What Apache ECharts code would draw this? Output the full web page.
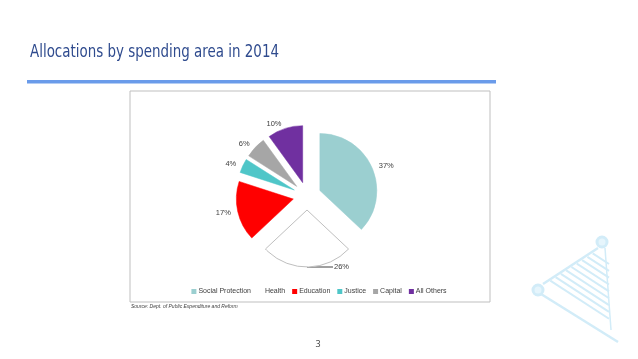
<!DOCTYPE html>
<html><head><meta charset="utf-8">
<script src="https://cdn.jsdelivr.net/npm/echarts@6/dist/echarts.min.js"></script>
<style>html,body{margin:0;padding:0;background:#fff}#c{width:638px;height:359px}</style>
</head><body><div id="c"></div>
<script>
var titleText = 'Allocations by spending area in 2014';
var categories = ['Social Protection', 'Health', 'Education', 'Justice', 'Capital', 'All Others'];
var values = [37, 26, 17, 4, 6, 10];
var colors = ['#9BCFD0', '#FFFFFF', '#FF0000', '#4FC6C8', '#A6A6A6', '#7030A0'];
var sourceText = 'Source: Dept. of Public Expenditure and Reform';
var pageNumber = '3';

var chart = echarts.init(document.getElementById('c'), null, {renderer: 'canvas'});
var data = categories.map(function (c, i) {
  var item = {name: c, value: values[i], selected: true,
    itemStyle: {color: colors[i], borderColor: i === 1 ? '#BFBFBF' : colors[i], borderWidth: i === 1 ? 1 : 0.5}};
  if (i === 1) {
    item.labelLine = {show: true, length: 0, length2: 26, lineStyle: {color: '#404040', width: 1}};
  }
  return item;
});
var legendData = categories.map(function (c, i) {
  return {name: c, itemStyle: {color: colors[i], borderWidth: 0}};
});
var harp = '#D2ECF8';
var stripes = [];
for (var k = 1; k <= 9; k++) {
  var t = k / 10;
  var sx = 545 + t * 53, sy = 284 - t * 34;
  var ex = 609;
  stripes.push({type: 'line', silent: true,
    shape: {x1: sx, y1: sy, x2: ex, y2: sy + (ex - sx) * 0.65},
    style: {stroke: harp, lineWidth: 2}});
}
chart.setOption({
  animation: false,
  backgroundColor: '#ffffff',
  legend: {
    data: legendData, bottom: 59, left: 'center', itemWidth: 5, itemHeight: 5, itemGap: 7,
    icon: 'rect', selectedMode: false,
    textStyle: {fontFamily: '"Liberation Sans", sans-serif', fontSize: 7, color: '#404040', padding: [0, 0, 0, -3]}
  },
  graphic: [
    {type: 'text', silent: true, x: 30, y: 44, scaleX: 0.79,
      style: {x: 0, y: 0, text: titleText, font: '17px "DejaVu Sans", sans-serif', fill: '#2F4B8E', verticalAlign: 'top', textVerticalAlign: 'top'}},
    {type: 'rect', silent: true, z: -1, shape: {x: 27, y: 80, width: 469, height: 3.5}, style: {fill: '#6A9BEA'}},
    {type: 'rect', silent: true, z: -1, shape: {x: 130, y: 91, width: 360, height: 211}, style: {fill: '#fff', stroke: '#BFBFBF', lineWidth: 1}},
    {type: 'text', silent: true, style: {x: 131, y: 307, text: sourceText, font: 'italic 5px "Liberation Sans", sans-serif', fill: '#404040', textVerticalAlign: 'middle'}},
    {type: 'text', silent: true, style: {x: 318, y: 344, text: pageNumber, font: '9px "Open Sans", sans-serif', fill: '#404040', textAlign: 'center', textVerticalAlign: 'middle'}},
    {type: 'circle', silent: true, shape: {cx: 602, cy: 242, r: 5}, style: {fill: '#E6F5FC', stroke: harp, lineWidth: 3}},
    {type: 'circle', silent: true, shape: {cx: 538, cy: 290, r: 5}, style: {fill: '#E6F5FC', stroke: harp, lineWidth: 3}},
    {type: 'line', silent: true, shape: {x1: 543, y1: 284, x2: 598, y2: 248}, style: {stroke: harp, lineWidth: 2.5}},
    {type: 'line', silent: true, shape: {x1: 541, y1: 294, x2: 618, y2: 342}, style: {stroke: harp, lineWidth: 2.5}},
    {type: 'line', silent: true, shape: {x1: 605, y1: 248, x2: 611, y2: 330}, style: {stroke: harp, lineWidth: 1.5}}
  ].concat(stripes),
  series: [{
    type: 'pie', center: [307, 196], radius: 57, startAngle: 90, clockwise: true,
    selectedMode: 'multiple', selectedOffset: 14,
    emphasis: {disabled: true},
    label: {show: true, position: 'outside', formatter: function (p) { return p.value + '%'; },
      fontFamily: '"Liberation Sans", sans-serif', fontSize: 7.5, color: '#404040', distanceToLabelLine: 1},
    labelLine: {show: false, length: 5, length2: 1},
    data: data
  }]
});
</script></body></html>
